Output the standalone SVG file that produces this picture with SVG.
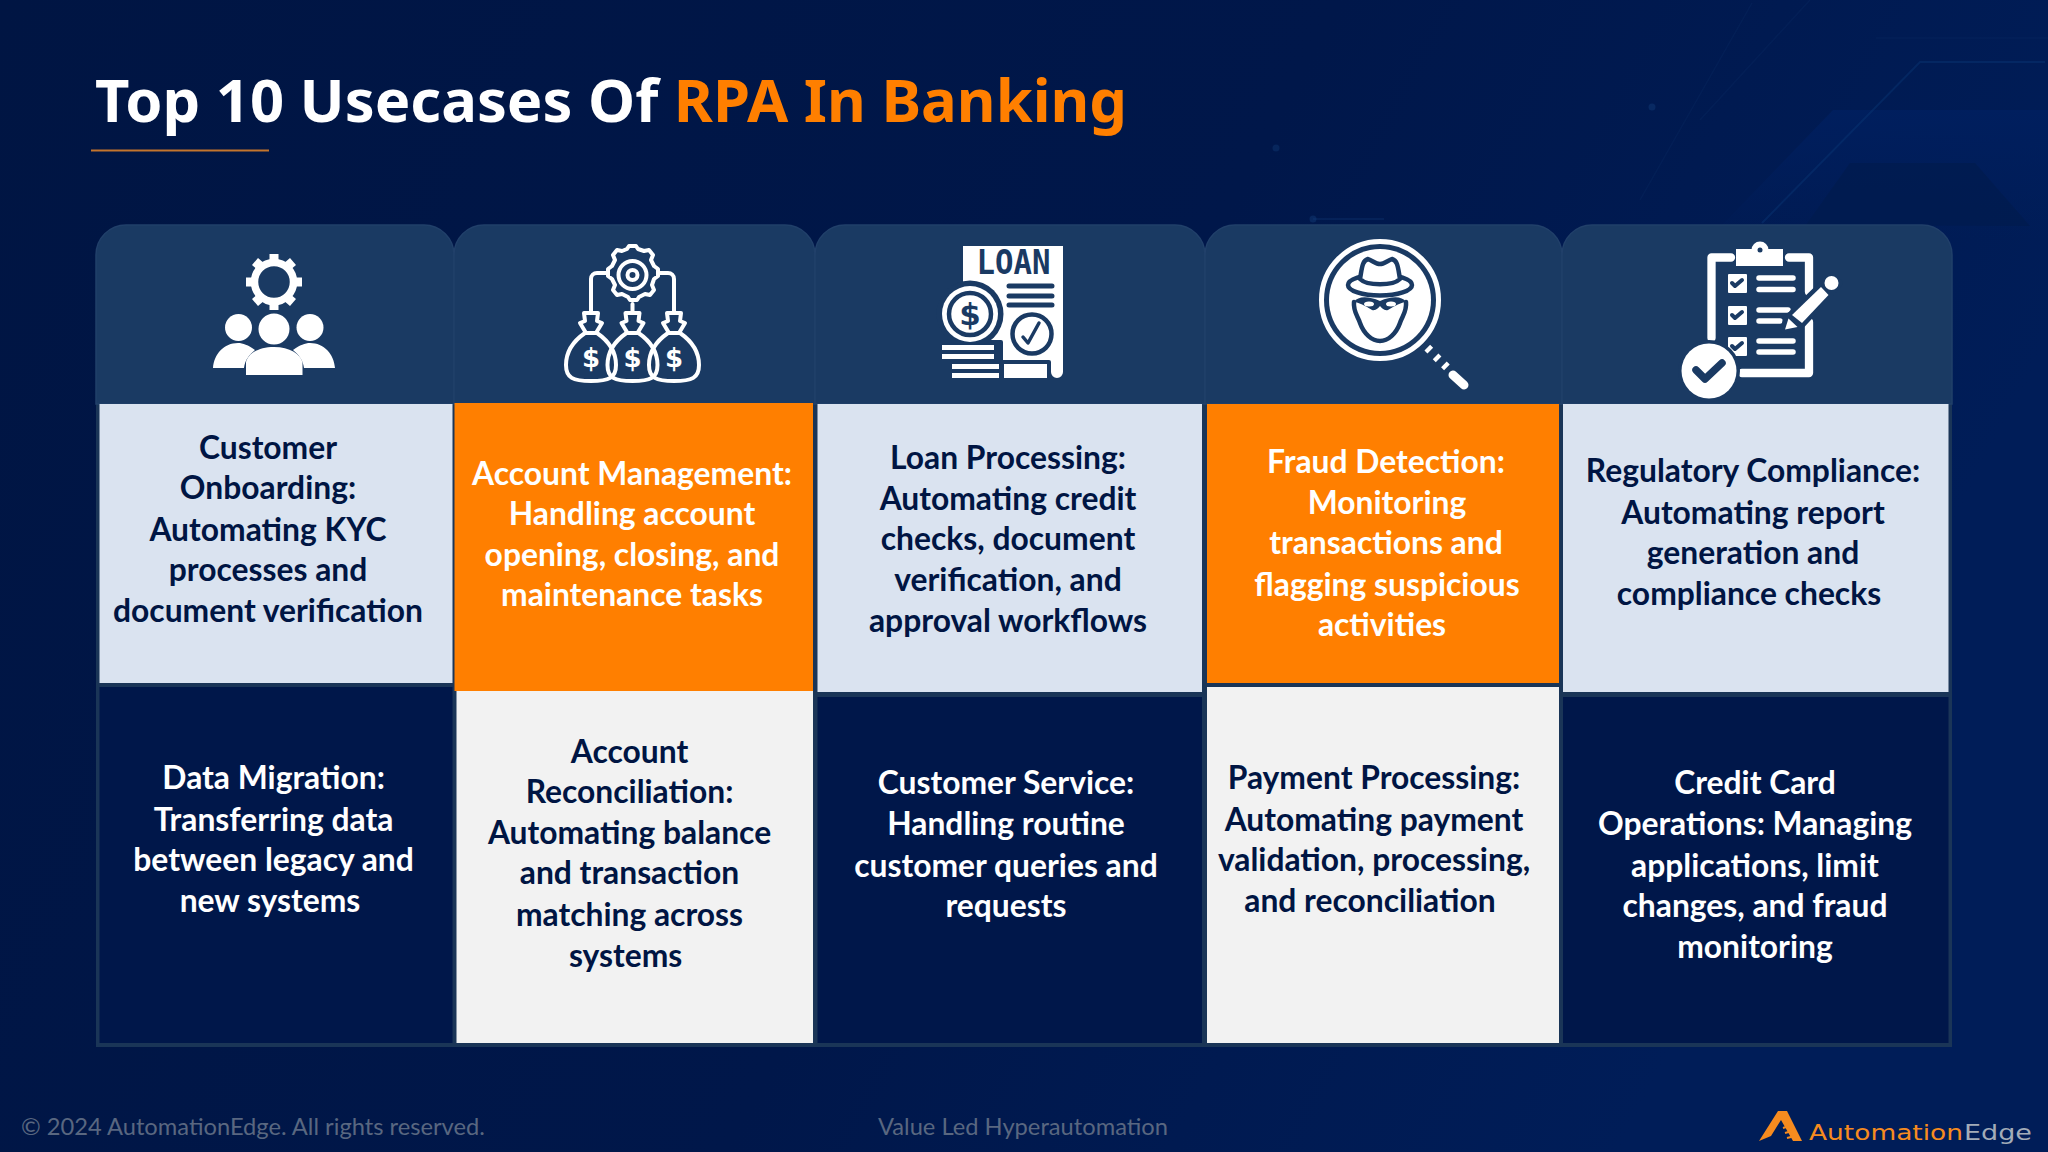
<svg xmlns="http://www.w3.org/2000/svg" width="2048" height="1152" viewBox="0 0 2048 1152">
<defs>
<linearGradient id="bg" x1="0" y1="0" x2="1" y2="0.3"><stop offset="0" stop-color="#001543"/><stop offset="0.6" stop-color="#00174a"/><stop offset="1" stop-color="#001d58"/></linearGradient>
<linearGradient id="bg2" x1="0" y1="0" x2="0" y2="1"><stop offset="0" stop-color="#001f5f" stop-opacity="0.9"/><stop offset="1" stop-color="#001f5f" stop-opacity="0"/></linearGradient>
</defs>
<style>
.c{font-family:Lato,"Liberation Sans",sans-serif;font-size:31.8px;font-weight:700;text-anchor:middle;transform:translateY(0.5px)}
.d{fill:#001543}.w{fill:#fff}.hd{fill:#1a3a63;stroke:#21406a;stroke-width:1.5}
.nv{fill:none;stroke:#1a3a63;stroke-linecap:round;stroke-linejoin:round}
.wl{fill:none;stroke:#fff;stroke-linecap:round;stroke-linejoin:round}
.ft{font-family:Lato,"Liberation Sans",sans-serif;font-size:23.700px;fill:#596780}
.ic{fill:#1a3a63;font-family:"DejaVu Sans",sans-serif;font-weight:700;text-anchor:middle}
.iw{fill:#fff;font-family:"DejaVu Sans",sans-serif;font-weight:700;text-anchor:middle}
.nc{fill:#00174a}
</style>
<rect width="2048" height="1152" fill="url(#bg)"/>
<g id="background-art">
<polygon points="1722,225 1833,110 2048,110 2048,240 1722,240" fill="url(#bg2)"/>
<polygon points="1806,225 1850,163 1975,163 2030,226" fill="#001b4f" opacity="0.8"/>
<path d="M1762,223 1920,62 2045,62" fill="none" stroke="#0a3a78" stroke-width="2" opacity="0.4"/>
<path d="M1640,200 1752,3M1700,120 1810,0M1876,38H2048" fill="none" stroke="#0a3066" stroke-width="1.5" opacity="0.25"/>
<circle cx="1652" cy="107" r="3.500" fill="#14427e" opacity="0.4"/><circle cx="1276" cy="148" r="3.500" fill="#14427e" opacity="0.35"/><circle cx="1313" cy="219" r="3.500" fill="#14427e" opacity="0.4"/>
<path d="M1313,219H1384" stroke="#14427e" stroke-width="1.5" opacity="0.35"/>
</g>
<text x="95" y="122" font-family="'Noto Sans',sans-serif" font-size="59.700" font-weight="700" fill="#fff">Top 10 Usecases Of <tspan fill="#ff7f00">RPA In Banking</tspan></text>
<rect x="91" y="149.500" width="178" height="2" fill="#c4752d"/>
<g id="frame"><rect x="96" y="400" width="1856" height="647" fill="#1a3557"/></g>
<g id="col1-header"><path class="hd" d="M96,404V255a30,30 0 0 1 30-30H424a30,30 0 0 1 30,30V404Z"/>
<g class="w"><circle cx="274" cy="282" r="19.500" fill="none" stroke="#fff" stroke-width="7.500"/>
<path d="M269.500,254h9v7h-9zM269.500,303h9v7h-9zM246,277.500h7v9h-7zM295,277.500h7v9h-7zM252,265l6-7 7,6-6,7zM296,265l-6-7-7,6 6,7zM252,299l6,7 7-6-6-7zM296,299l-6,7-7-6 6-7z"/>
<circle cx="274" cy="329" r="15.500"/><circle cx="238.500" cy="327.500" r="13.500"/><circle cx="310" cy="327.500" r="13.500"/>
<path d="M246,375V362C248,354 258,347 274,347C290,347 300,354 302.500,362V375Z"/>
<path d="M213,368C214,354 224,343 238,343C243,343 248,345 255,350C249,355 245,360 244,368Z"/>
<path d="M335,368C334,354 324,343 310,343C305,343 300,345 293,350C299,355 303,360 304,368Z"/></g></g>
<g id="col2-header"><path class="hd" d="M454,404V255a30,30 0 0 1 30-30H785a30,30 0 0 1 30,30V404Z"/>
<g class="wl" stroke-width="4"><circle cx="632.500" cy="275" r="14"/><circle cx="632.500" cy="275" r="5"/>
<path d="M627,249l2-3h7l2,3 6,2 5-1 4,5-2,5 3,6 4,3v7l-4,3-2,6 2,5-4,5-5-1-6,3-2,3h-7l-2-3-6-3-5,1-4-5 2-5-3-6-4-3v-7l4-3 3-6-2-5 4-5 5,1z"/>
<path d="M606,273h-9a6,6 0 0 0-6,6V313M659,273h9a6,6 0 0 1 6,6V313M632.500,304V313"/>
<g id="bags"><path d="M584,313h14l-1,8 5,2-6,10h-10l-6-10 5-2z"/><path d="M585,333C572,342 566,352 566,365C566,378 573,381 591,381C609,381 616,378 616,365C616,352 610,342 597,333"/>
<path d="M625.500,313h14l-1,8 5,2-6,10h-10l-6-10 5-2z"/><path d="M626.500,333C613.500,342 607.500,352 607.500,365C607.500,378 614.500,381 632.500,381C650.500,381 657.500,378 657.500,365C657.500,352 651.500,342 638.500,333"/>
<path d="M667,313h14l-1,8 5,2-6,10h-10l-6-10 5-2z"/><path d="M668,333C655,342 649,352 649,365C649,378 656,381 674,381C692,381 699,378 699,365C699,352 693,342 680,333"/></g></g>
<text class="iw" x="591" y="367" font-size="26">$</text><text class="iw" x="632.500" y="367" font-size="26">$</text><text class="iw" x="674" y="367" font-size="26">$</text></g>
<g id="col3-header"><path class="hd" d="M815,404V255a30,30 0 0 1 30-30H1175a30,30 0 0 1 30,30V404Z"/>
<path class="w" d="M963,246H1063V372a6,6 0 0 1-12,0V364H963Z"/>
<rect x="1004" y="364" width="43" height="14" class="w"/>
<text x="1013.500" y="274" font-family="'DejaVu Sans Mono',monospace" font-weight="700" font-size="33" fill="#1a3a63" text-anchor="middle" textLength="74" lengthAdjust="spacingAndGlyphs">LOAN</text>
<path class="nv" stroke-width="5" d="M1009,286H1052M1009,296H1052M1009,305H1052"/>
<circle cx="1032" cy="334" r="19.500" fill="#fff" stroke="#1a3a63" stroke-width="4.500"/>
<path class="nv" stroke-width="3.500" d="M1023,337l5,6 11-20"/>
<rect x="930" y="340" width="71" height="40" fill="#1a3a63"/>
<path d="M1001,342V362H1049V378" class="nv" stroke-width="4" stroke-linecap="butt"/>
<circle cx="970" cy="314" r="33.500" fill="#1a3a63"/><circle cx="970" cy="314" r="28" class="w"/>
<circle cx="970" cy="314" r="21" fill="#fff" stroke="#1a3a63" stroke-width="4.500"/>
<text class="ic" x="970" y="325" font-size="31">$</text>
<path class="w" d="M942,345h52v5h-52zM942,354h52v5h-52zM952,364h47v5h-47zM952,373h47v5h-47z"/></g>
<g id="col4-header"><path class="hd" d="M1205,404V255a30,30 0 0 1 30-30H1532a30,30 0 0 1 30,30V404Z"/>
<circle cx="1380" cy="300" r="58.500" fill="none" stroke="#fff" stroke-width="5"/><circle cx="1380" cy="300" r="51" class="w"/>
<ellipse cx="1380" cy="285" rx="32" ry="10.500" fill="#fff" stroke="#1a3a63" stroke-width="4.500"/>
<path d="M1360,279C1362,268 1362,261 1368,259C1373,261 1376,264 1380,264C1384,264 1387,261 1392,259C1398,261 1398,268 1400,279C1393,286 1367,286 1360,279Z" fill="#fff" stroke="#1a3a63" stroke-width="4.500" stroke-linejoin="round"/>
<path d="M1354,302C1353,312 1358,316 1360,323C1364,334 1372,341 1380,341C1388,341 1396,334 1400,323C1402,316 1407,312 1406,302" fill="#fff" stroke="#1a3a63" stroke-width="4.500" stroke-linecap="round"/>
<path d="M1354,302C1362,303 1368,308 1372,310C1376,311 1378,308 1380,306C1382,308 1384,311 1388,310C1392,308 1398,303 1406,302C1402,296 1392,296 1380,301C1368,296 1358,296 1354,302Z" fill="#1a3a63"/>
<ellipse cx="1369" cy="304" rx="5" ry="2.500" class="w"/><ellipse cx="1391" cy="304" rx="5" ry="2.500" class="w"/>
<path fill="none" stroke="#fff" stroke-width="8" d="M1427.300,347.600l3,3M1435.600,356.300l3,3M1443.900,364.300l3,3"/>
<path class="wl" stroke-width="9" d="M1453,375l11,10"/></g>
<g id="col5-header"><path class="hd" d="M1562,404V255a30,30 0 0 1 30-30H1922a30,30 0 0 1 30,30V404Z"/>
<path class="wl" stroke-width="8.300" stroke-linecap="butt" stroke-linejoin="round" d="M1711.500,338V257.500H1731M1789,257.500H1809V292M1809,322V373H1742"/>
<rect x="1736" y="249" width="47" height="17" class="w"/><circle cx="1760" cy="250" r="8.500" class="w"/><circle cx="1760" cy="250" r="2.500" fill="#1a3a63"/>
<g class="w"><rect x="1728" y="274" width="19" height="19" rx="1"/><rect x="1728" y="306" width="19" height="19" rx="1"/><rect x="1728" y="337" width="19" height="19" rx="1"/></g>
<path class="nv" stroke-width="4" d="M1732,283l3,3 7-6M1732,315l3,3 7-6M1732,346l3,3 7-6"/>
<path class="wl" stroke-width="5.500" d="M1759,278H1793M1759,289.500H1793M1759,310H1788M1759,321H1780M1759,341H1793M1759,352H1793"/>
<path fill="#1a3a63" stroke="#1a3a63" stroke-width="9" stroke-linejoin="round" d="M1785,329 1788,318 1792,315 1821,287 1832,277 1838,283 1828,295 1802,323 1797,327Z"/>
<path class="w" d="M1792,315 1821,287 1828.500,295 1802,323Z"/><circle cx="1831.500" cy="283" r="7" class="w"/><path class="w" d="M1785,329.500 1788.500,318.500 1797.500,327Z"/>
<circle cx="1709" cy="371" r="31" fill="#1a3a63"/><circle cx="1709" cy="371" r="27.500" class="w"/>
<path class="nv" stroke-width="7.500" d="M1696,370l9,9 17-16"/></g>

<g id="node-customer-onboarding"><rect x="99.500" y="404" width="353" height="279" fill="#dae3f0"/>
<text class="c d"><tspan x="268" y="458">Customer</tspan><tspan x="268" y="498">Onboarding:</tspan><tspan x="268" y="540">Automating KYC</tspan><tspan x="268" y="580.500">processes and</tspan><tspan x="268" y="621">document verification</tspan></text></g>
<g id="node-account-management"><rect x="454.500" y="403" width="358.500" height="288" fill="#ff7f00"/>
<text class="c w"><tspan x="632" y="484">Account Management:</tspan><tspan x="632" y="524">Handling account</tspan><tspan x="632" y="565">opening, closing, and</tspan><tspan x="632" y="605">maintenance tasks</tspan></text></g>
<g id="node-loan-processing"><rect x="817.500" y="404" width="384.500" height="288" fill="#dae3f0"/>
<text class="c d"><tspan x="1008" y="468">Loan Processing:</tspan><tspan x="1008" y="509">Automating credit</tspan><tspan x="1008" y="549">checks, document</tspan><tspan x="1008" y="590">verification, and</tspan><tspan x="1008" y="631">approval workflows</tspan></text></g>
<g id="node-fraud-detection"><rect x="1207" y="404" width="352" height="279" fill="#ff7f00"/>
<text class="c w"><tspan x="1386" y="472">Fraud Detection:</tspan><tspan x="1387" y="513">Monitoring</tspan><tspan x="1386" y="553">transactions and</tspan><tspan x="1387" y="595">flagging suspicious</tspan><tspan x="1382" y="635">activities</tspan></text></g>
<g id="node-regulatory-compliance"><rect x="1563" y="404" width="385.500" height="288" fill="#dae3f0"/>
<text class="c d"><tspan x="1753" y="481">Regulatory Compliance:</tspan><tspan x="1753" y="523">Automating report</tspan><tspan x="1753" y="563.500">generation and</tspan><tspan x="1749" y="604">compliance checks</tspan></text></g>
<g id="node-data-migration"><rect x="99.500" y="687" width="353" height="356" class="nc"/>
<text class="c w"><tspan x="273.600" y="788">Data Migration:</tspan><tspan x="273.600" y="830">Transferring data</tspan><tspan x="273.600" y="870">between legacy and</tspan><tspan x="270" y="911">new systems</tspan></text></g>
<g id="node-account-reconciliation"><rect x="456.500" y="691" width="356.500" height="352" fill="#f2f2f2"/>
<text class="c d"><tspan x="629.500" y="762">Account</tspan><tspan x="629.500" y="802.500">Reconciliation:</tspan><tspan x="629.500" y="843">Automating balance</tspan><tspan x="629.500" y="883.500">and transaction</tspan><tspan x="629.500" y="925">matching across</tspan><tspan x="625.600" y="966">systems</tspan></text></g>
<g id="node-customer-service"><rect x="817.500" y="697" width="384.500" height="346" class="nc"/>
<text class="c w"><tspan x="1006" y="793">Customer Service:</tspan><tspan x="1006" y="834">Handling routine</tspan><tspan x="1006" y="876">customer queries and</tspan><tspan x="1006" y="916">requests</tspan></text></g>
<g id="node-payment-processing"><rect x="1207" y="687" width="352" height="356" fill="#f2f2f2"/>
<text class="c d"><tspan x="1374" y="788">Payment Processing:</tspan><tspan x="1374" y="830">Automating payment</tspan><tspan x="1374" y="870">validation, processing,</tspan><tspan x="1370" y="911">and reconciliation</tspan></text></g>
<g id="node-credit-card"><rect x="1563" y="697" width="385.500" height="346" class="nc"/>
<text class="c w"><tspan x="1755" y="793">Credit Card</tspan><tspan x="1755" y="834">Operations: Managing</tspan><tspan x="1755" y="876">applications, limit</tspan><tspan x="1755" y="916">changes, and fraud</tspan><tspan x="1755" y="957">monitoring</tspan></text></g>
<text class="ft" x="21" y="1135">© 2024 AutomationEdge. All rights reserved.</text>
<text class="ft" x="878" y="1135">Value Led Hyperautomation</text>
<g id="logo"><path d="M1759,1141 1778,1111H1787L1802,1141H1793L1781,1120 1771,1136Z" fill="#f68b1f"/>
<path d="M1783,1128l6-2M1785,1133l7-2M1787,1138l8-2" stroke="#f68b1f" stroke-width="2"/>
<text x="1809" y="1140" font-family="'DejaVu Sans',sans-serif" font-size="22" fill="#f68b1f" textLength="154" lengthAdjust="spacingAndGlyphs">Automation</text>
<text x="1964" y="1140" font-family="'DejaVu Sans',sans-serif" font-size="22" fill="#a3acb8" textLength="68" lengthAdjust="spacingAndGlyphs">Edge</text></g>
</svg>
